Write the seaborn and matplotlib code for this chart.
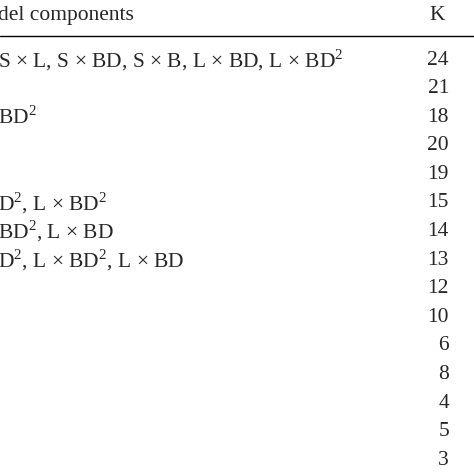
import matplotlib
matplotlib.use("Agg")
import matplotlib.pyplot as plt
import seaborn as sns

header_left = "del components"
header_right = "K"
components = ["S × L, S × BD, S × B, L × BD, L × BD$^2$", "", "BD$^2$", "", "",
              "D$^2$, L × BD$^2$", "BD$^2$, L × BD", "D$^2$, L × BD$^2$, L × BD",
              "", "", "", "", "", "", ""]
k_values = [24, 21, 18, 20, 19, 15, 14, 13, 12, 10, 6, 8, 4, 5, 3]

sns.set_theme(style="white")
plt.rcParams['font.family'] = ['Liberation Serif', 'DejaVu Serif']
plt.rcParams['mathtext.fontset'] = 'custom'
plt.rcParams['mathtext.rm'] = 'Liberation Serif'

fig = plt.figure(figsize=(4.74, 4.74), dpi=100)
ax = fig.add_axes([0, 0, 1, 1])
ax.set_xlim(0, 474)
ax.set_ylim(14.48, -2.1)
ax.axis("off")

fs = 15.5
ax.text(-2, -1.57, header_left, fontsize=fs, va="center", ha="left")
ax.text(437, -1.57, header_right, fontsize=fs, va="center", ha="center")
ax.axhline(-0.84, color="black", lw=1)
for i, (c, k) in enumerate(zip(components, k_values)):
    if c:
        ax.text(-2, i, c, fontsize=fs, va="center", ha="left")
    ax.text(449, i, str(k), fontsize=fs, va="center", ha="right")

fig.savefig("out.png", dpi=100, facecolor="white")
